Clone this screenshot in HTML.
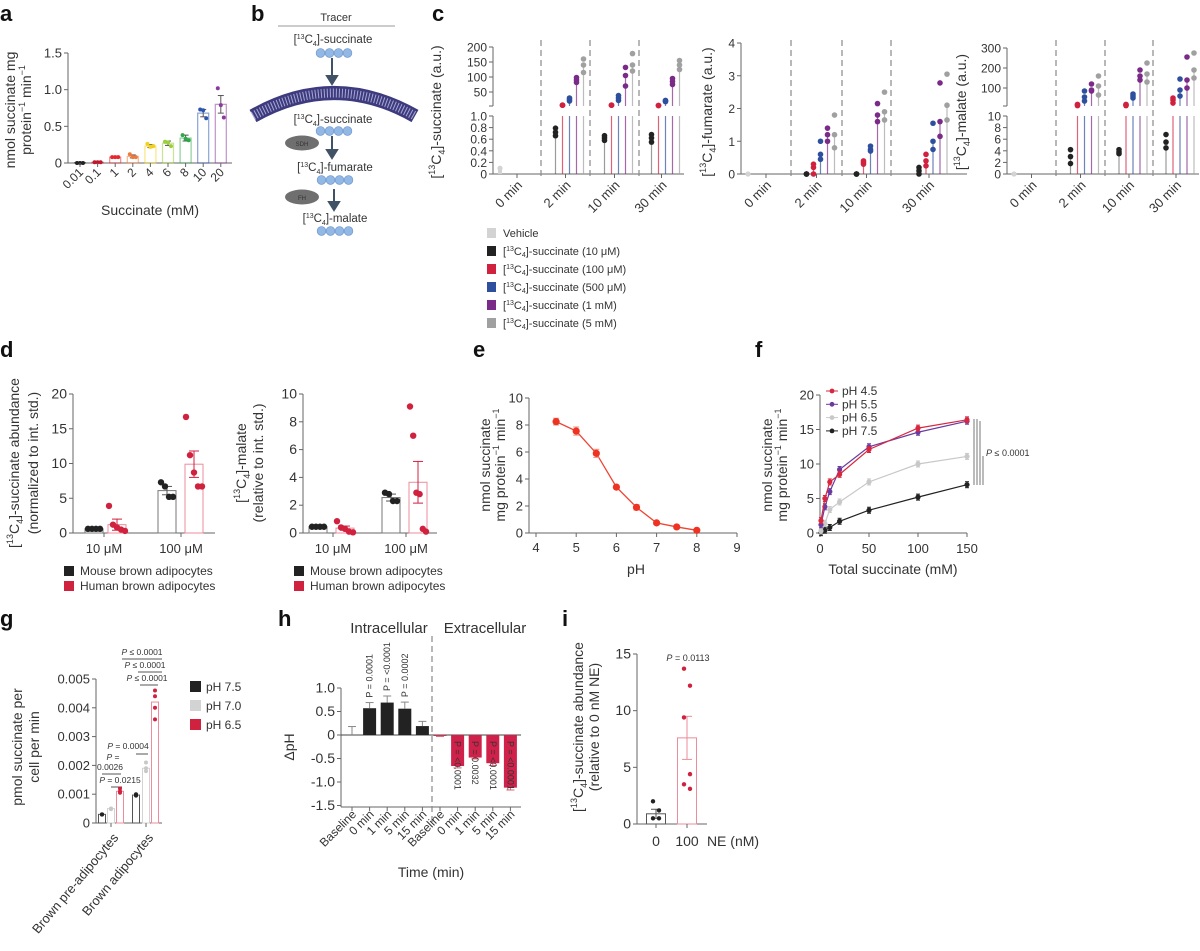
<!DOCTYPE html>
<html><head><meta charset="utf-8">
<style>
html,body{margin:0;padding:0;background:#fff;}
svg{display:block;font-family:"Liberation Sans",sans-serif;fill:#333;}
text{fill:#333;}
.pl{font-weight:bold;font-size:22px;fill:#111;}
</style></head>
<body>
<svg id="fig" width="1200" height="951" viewBox="0 0 1200 951" xmlns="http://www.w3.org/2000/svg">
<!-- panel letters -->
<text class="pl" x="0" y="21">a</text>
<text class="pl" x="251" y="21">b</text>
<text class="pl" x="432" y="21">c</text>
<text class="pl" x="0" y="357">d</text>
<text class="pl" x="473" y="357">e</text>
<text class="pl" x="755" y="357">f</text>
<text class="pl" x="0" y="626">g</text>
<text class="pl" x="278" y="626">h</text>
<text class="pl" x="562" y="626">i</text>

<!-- panel a labels -->
<g font-size="14" text-anchor="middle">
<text transform="translate(15,110) rotate(-90)">nmol succinate mg</text>
<text transform="translate(31,110) rotate(-90)">protein<tspan font-size="9" dy="-6">−1</tspan><tspan dy="6"> min</tspan><tspan font-size="9" dy="-6">−1</tspan></text>
</g>
<text x="150" y="215" font-size="14" text-anchor="middle">Succinate (mM)</text>

<!-- panel b diagram -->
<g font-size="11.5" text-anchor="middle">
<text x="336" y="21" font-size="11">Tracer</text>
<line x1="278" y1="26" x2="395" y2="26" stroke="#999" stroke-width="1"/>
<text x="333" y="43">[<tspan font-size="7" dy="-4">13</tspan><tspan dy="4">C</tspan><tspan font-size="7" dy="3">4</tspan><tspan dy="-3">]-succinate</tspan></text>
<path d="M253,116 Q334,70 415,116" fill="none" stroke="#3d3b7e" stroke-width="14"/>
<path d="M253,116 Q334,70 415,116" fill="none" stroke="#a9a8d4" stroke-width="9" stroke-dasharray="1 2"/>
<text x="333" y="123">[<tspan font-size="7" dy="-4">13</tspan><tspan dy="4">C</tspan><tspan font-size="7" dy="3">4</tspan><tspan dy="-3">]-succinate</tspan></text>
<text x="335" y="171">[<tspan font-size="7" dy="-4">13</tspan><tspan dy="4">C</tspan><tspan font-size="7" dy="3">4</tspan><tspan dy="-3">]-fumarate</tspan></text>
<text x="335" y="222">[<tspan font-size="7" dy="-4">13</tspan><tspan dy="4">C</tspan><tspan font-size="7" dy="3">4</tspan><tspan dy="-3">]-malate</tspan></text>
<ellipse cx="302" cy="143" rx="17" ry="7.5" fill="#6f6f6f"/>
<text x="302" y="146" font-size="6" fill="#444">SDH</text>
<ellipse cx="302" cy="197" rx="17" ry="7.5" fill="#6f6f6f"/>
<text x="302" y="200" font-size="6" fill="#444">FH</text>
<g stroke="#3f5266" stroke-width="2" fill="#3f5266">
<line x1="332" y1="58" x2="332" y2="78"/><polygon points="327,76 337,76 332,84"/>
<line x1="332" y1="136" x2="332" y2="152"/><polygon points="327,150 337,150 332,158"/>
<line x1="334" y1="189" x2="334" y2="204"/><polygon points="329,202 339,202 334,210"/>
</g>
<g id="beads"></g>
</g>

<!-- panel c y titles -->
<g font-size="14" text-anchor="middle">
<text transform="translate(441,112) rotate(-90)">[<tspan font-size="9" dy="-6">13</tspan><tspan dy="6">C</tspan><tspan font-size="9" dy="4">4</tspan><tspan dy="-4">]-succinate (a.u.)</tspan></text>
<text transform="translate(712,112) rotate(-90)">[<tspan font-size="9" dy="-6">13</tspan><tspan dy="6">C</tspan><tspan font-size="9" dy="4">4</tspan><tspan dy="-4">]-fumarate (a.u.)</tspan></text>
<text transform="translate(966,112) rotate(-90)">[<tspan font-size="9" dy="-6">13</tspan><tspan dy="6">C</tspan><tspan font-size="9" dy="4">4</tspan><tspan dy="-4">]-malate (a.u.)</tspan></text>
</g>
<g id="cLegend" font-size="11"></g>

<!-- panel d titles -->
<g font-size="14" text-anchor="middle">
<text transform="translate(19,463) rotate(-90)">[<tspan font-size="9" dy="-6">13</tspan><tspan dy="6">C</tspan><tspan font-size="9" dy="4">4</tspan><tspan dy="-4">]-succinate abundance</tspan></text>
<text transform="translate(38,463) rotate(-90)">(normalized to int. std.)</text>
<text transform="translate(246,463) rotate(-90)">[<tspan font-size="9" dy="-6">13</tspan><tspan dy="6">C</tspan><tspan font-size="9" dy="4">4</tspan><tspan dy="-4">]-malate</tspan></text>
<text transform="translate(263,463) rotate(-90)">(relative to int. std.)</text>
</g>
<g font-size="12">
<rect x="64" y="566" width="10" height="10" fill="#222"/><text x="80" y="575">Mouse brown adipocytes</text>
<rect x="64" y="581" width="10" height="10" fill="#d0213f"/><text x="80" y="590">Human brown adipocytes</text>
<rect x="294" y="566" width="10" height="10" fill="#222"/><text x="310" y="575">Mouse brown adipocytes</text>
<rect x="294" y="581" width="10" height="10" fill="#d0213f"/><text x="310" y="590">Human brown adipocytes</text>
</g>

<!-- e titles -->
<g font-size="14" text-anchor="middle">
<text transform="translate(490,465) rotate(-90)">nmol succinate</text>
<text transform="translate(505,465) rotate(-90)">mg protein<tspan font-size="9" dy="-6">−1</tspan><tspan dy="6"> min</tspan><tspan font-size="9" dy="-6">−1</tspan></text>
<text x="636" y="574">pH</text>
<text transform="translate(772,465) rotate(-90)">nmol succinate</text>
<text transform="translate(787,465) rotate(-90)">mg protein<tspan font-size="9" dy="-6">−1</tspan><tspan dy="6"> min</tspan><tspan font-size="9" dy="-6">−1</tspan></text>
<text x="893" y="574">Total succinate (mM)</text>
</g>
<g stroke="#777" stroke-width="1">
<line x1="974" y1="419" x2="974" y2="485"/><line x1="977" y1="419" x2="977" y2="485"/><line x1="980" y1="421" x2="980" y2="485"/><line x1="983" y1="456" x2="983" y2="485"/>
</g>
<text x="986" y="456" font-size="9"><tspan font-style="italic">P</tspan> ≤ 0.0001</text>
<g id="fLegend" font-size="12"></g>

<!-- g titles -->
<g font-size="14" text-anchor="middle">
<text transform="translate(22,747) rotate(-90)">pmol succinate per</text>
<text transform="translate(39,747) rotate(-90)">cell per min</text>
</g>
<g font-size="12">
<rect x="190" y="681" width="11" height="11" fill="#222"/><text x="206" y="691">pH 7.5</text>
<rect x="190" y="700" width="11" height="11" fill="#d3d3d3"/><text x="206" y="710">pH 7.0</text>
<rect x="190" y="719" width="11" height="11" fill="#d0213f"/><text x="206" y="729">pH 6.5</text>
</g>
<g font-size="8.5" text-anchor="middle">
<text x="142" y="655"><tspan font-style="italic">P</tspan> ≤ 0.0001</text><line x1="122" y1="659" x2="162" y2="659" stroke="#555"/>
<text x="145" y="668"><tspan font-style="italic">P</tspan> ≤ 0.0001</text><line x1="138" y1="672" x2="162" y2="672" stroke="#555"/>
<text x="147" y="681"><tspan font-style="italic">P</tspan> ≤ 0.0001</text><line x1="140" y1="685" x2="158" y2="685" stroke="#555"/>
<text x="128" y="749"><tspan font-style="italic">P</tspan> = 0.0004</text><line x1="136" y1="754" x2="148" y2="754" stroke="#555"/>
<text x="113" y="760"><tspan font-style="italic">P</tspan> =</text>
<text x="110" y="770">0.0026</text><line x1="102" y1="774" x2="121" y2="774" stroke="#555"/>
<text x="120" y="783"><tspan font-style="italic">P</tspan> = 0.0215</text><line x1="111" y1="787" x2="122" y2="787" stroke="#555"/>
</g>
<g font-size="13" text-anchor="end">
<text transform="translate(119,838) rotate(-50)">Brown pre-adipocytes</text>
<text transform="translate(154,838) rotate(-50)">Brown adipocytes</text>
</g>

<!-- h titles -->
<g font-size="15" text-anchor="middle">
<text x="389" y="633">Intracellular</text>
<text x="485" y="633">Extracellular</text>
<text x="431" y="877" font-size="14">Time (min)</text>
<text transform="translate(294,747) rotate(-90)" font-size="14">ΔpH</text>
</g>

<!-- i titles -->
<g font-size="14" text-anchor="middle">
<text transform="translate(583,727) rotate(-90)">[<tspan font-size="9" dy="-6">13</tspan><tspan dy="6">C</tspan><tspan font-size="9" dy="4">4</tspan><tspan dy="-4">]-succinate abundance</tspan></text>
<text transform="translate(599,727) rotate(-90)">(relative to 0 nM NE)</text>
<text x="733" y="846">NE (nM)</text>
<text x="688" y="661" font-size="9"><tspan font-style="italic">P</tspan> = 0.0113</text>
</g>
</svg>

<script>
// ---------- data ----------
const aCats=['0.01','0.1','1','2','4','6','8','10','20'];
const aVals=[0.005,0.01,0.08,0.09,0.23,0.27,0.34,0.68,0.8];
const aErr=[0,0,0.005,0.02,0.02,0.03,0.04,0.05,0.12];
const aDots=[[0,0,0],[0.01,0.01,0.01],[0.08,0.08,0.08],[0.12,0.08,0.08],[0.26,0.22,0.23],[0.29,0.28,0.23],[0.38,0.33,0.31],[0.73,0.72,0.61],[1.02,0.79,0.62]];
const aTicks=[0,0.5,1.0,1.5];
const aTickLabels=['0','0.5','1.0','1.5'];

const cGroups=['0 min','2 min','10 min','30 min'];
const cLegendLabels=['Vehicle','(10 μM)','(100 μM)','(500 μM)','(1 mM)','(5 mM)'];
const sucVehicle=0.1;
const sucMean=[[0.72,0.62,0.62],[6,6,5],[25,30,20],[90,105,85],[140,140,140]];
const sucLo=[[0.66,0.58,0.55],[6,6,5],[20,22,18],[82,70,75],[115,120,125]];
const sucHi=[[0.79,0.66,0.68],[6,6,5],[30,38,22],[98,132,95],[160,178,155]];
const fumVehicle=0;
const fumMean=[[0,0,0.1],[0.2,0.35,0.4],[0.6,0.75,1.0],[1.2,1.8,1.6],[1.2,1.9,2.1]];
const fumLo=[[0,0,0],[0,0.3,0.25],[0.45,0.7,0.75],[1.0,1.6,1.15],[0.8,1.65,1.65]];
const fumHi=[[0,0,0.2],[0.3,0.4,0.6],[1.0,0.85,1.55],[1.4,2.15,2.78],[1.8,2.5,3.05]];
const malVehicle=0;
const malMean=[[3,3.8,5.5],[15,15,40],[55,60,90],[90,160,140],[110,170,190]];
const malLo=[[1.8,3.5,4.5],[12,12,25],[35,50,60],[85,140,100],[65,130,150]];
const malHi=[[4.2,4.2,6.8],[18,18,50],[85,70,145],[120,190,255],[160,225,275]];

const dCats=['10 μM','100 μM'];
const d1Mouse=[0.6,6.1];
const d1Human=[1.2,9.9];
const d1HumanErr=[0.8,1.9];
const d1MouseErr=[0.05,0.6];
const d1MouseDots=[[0.6,0.6,0.6,0.6],[7.3,6.7,5.2,5.2]];
const d1HumanDots=[[3.9,1.2,0.8,0.5,0.3],[16.7,11.2,8.7,6.7,6.7]];
const d2Mouse=[0.45,2.55];
const d2Human=[0.35,3.65];
const d2MouseErr=[0.03,0.25];
const d2HumanErr=[0.15,1.5];
const d2MouseDots=[[0.45,0.45,0.45,0.45],[2.9,2.8,2.3,2.3]];
const d2HumanDots=[[0.85,0.4,0.3,0.1,0.05],[9.1,7.0,2.9,2.8,0.3,0.1]];

const ePH=[4.5,5,5.5,6,6.5,7,7.5,8];
const eVals=[8.25,7.55,5.9,3.4,1.9,0.75,0.45,0.2];
const eErr=[0.25,0.3,0.3,0.1,0.2,0.05,0.05,0.05];

const fX=[1,5,10,20,50,100,150];
const fLabels=['pH 4.5','pH 5.5','pH 6.5','pH 7.5'];
const fPH45=[1.8,5.0,7.4,8.5,12.1,15.2,16.4];
const fPH55=[1.2,3.8,6.0,9.2,12.5,14.6,16.2];
const fPH65=[0.3,1.4,3.4,4.5,7.4,10.0,11.1];
const fPH75=[0.05,0.4,0.8,1.7,3.3,5.2,7.0];

const gCats=['Brown pre-adipocytes','Brown adipocytes'];
const g75=[0.0003,0.00097];
const g70=[0.0005,0.0019];
const g65=[0.0011,0.0042];
const g75Dots=[[0.0003,0.0003,0.00029],[0.001,0.00097,0.00095]];
const g70Dots=[[0.0005,0.0005,0.00048],[0.0021,0.0019,0.0018]];
const g65Dots=[[0.0012,0.0011,0.00105],[0.0046,0.0044,0.004,0.0036]];

const hCats=['Baseline','0 min','1 min','5 min','15 min','Baseline','0 min','1 min','5 min','15 min'];
const hVals=[0,0.57,0.69,0.56,0.19,-0.02,-0.66,-0.48,-0.6,-1.12];
const hErr=[0.18,0.12,0.14,0.14,0.1,0.01,0.04,0.03,0.05,0.05];
const hP=['','P = 0.0001','P = <0.0001','P = 0.0002','','','P = <0.0001','P = 0.0032','P = <0.0001','P = <0.0001'];

const iCats=['0','100'];
const iVals=[0.9,7.6];
const iErr=[0.4,1.9];
const iDots=[[2.0,1.2,0.5,0.5],[13.7,12.2,9.4,4.4,3.5,3.1]];

// ---------- helpers ----------
const NS='http://www.w3.org/2000/svg';
const svg=document.getElementById('fig');
function mk(tag,a,p){const e=document.createElementNS(NS,tag);for(const k in a)e.setAttribute(k,a[k]);(p||svg).appendChild(e);return e;}
function txt(x,y,s,a,p){const e=mk('text',Object.assign({x:x,y:y},a||{}),p);e.textContent=s;return e;}
function lin(d0,d1,r0,r1){return v=>r0+(v-d0)*(r1-r0)/(d1-d0);}
function grp(name){const g=mk('g',{});return g;}
const AX='#666';
function yAxis(g,x,yTop,yBot,ticks,labels,sc,fs){
  mk('line',{x1:x,x2:x,y1:yTop,y2:yBot,stroke:AX,'stroke-width':1},g);
  ticks.forEach((t,i)=>{const y=sc(t);mk('line',{x1:x-4,x2:x,y1:y,y2:y,stroke:AX},g);txt(x-6,y+4.5,labels[i],{'text-anchor':'end','font-size':fs},g);});
}
function dot(g,x,y,r,c){return mk('circle',{cx:x,cy:y,r:r,fill:c},g);}
function errbar(g,x,y1,y2,c,w){mk('line',{x1:x,x2:x,y1:y1,y2:y2,stroke:c,'stroke-width':1},g);mk('line',{x1:x-w,x2:x+w,y1:y1,y2:y1,stroke:c},g);mk('line',{x1:x-w,x2:x+w,y1:y2,y2:y2,stroke:c},g);}
const RED='#d0213f', PINK='#ec8c9c', BLK='#222', GRY='#a0a0a0', LGRY='#d3d3d3', BLU='#2d4f9e', PUR='#7a2a87';

// ---------- beads in b ----------
(function(){const g=document.getElementById('beads');[[334,53],[334,131],[335,180],[335,231]].forEach(([cx,cy])=>{for(let k=0;k<4;k++){mk('circle',{cx:cx-13.5+k*9,cy:cy,r:4.4,fill:'#92b8e6',stroke:'#6a92c8','stroke-width':0.6},g);}});})();

// ---------- panel a ----------
(function(){
  const g=grp('panel-a-chart');
  const y=lin(0,1.5,163,53);
  const cols=['#222','#c0172c','#e8262c','#f07a3a','#f2d21b','#9ccf3d','#2fa84a','#2d55b0','#8a3a9e'];
  const x=i=>80+i*17.6;
  yAxis(g,68,53,163,aTicks,aTickLabels,y,13);
  mk('line',{x1:68,x2:232,y1:163,y2:163,stroke:AX},g);
  aVals.forEach((v,i)=>{
    const b=mk('rect',{x:x(i)-5.5,y:y(v),width:11,height:163-y(v),fill:'none',stroke:cols[i],'stroke-opacity':0.55,'stroke-width':1.2},g);
    
    
    if(aErr[i]>0)errbar(g,x(i),y(v+aErr[i]),y(v-aErr[i]),'#555',3);
    aDots[i].forEach((d,k)=>{dot(g,x(i)-3+k*3,y(d),2,cols[i]);});
    mk('line',{x1:x(i),x2:x(i),y1:163,y2:167,stroke:AX},g);
    txt(x(i)+4,173,aCats[i],{'text-anchor':'end','font-size':12,transform:'rotate(-45 '+(x(i)+4)+' 173)'},g);
  });
})();

// ---------- panel c ----------
const cCols=[BLK,RED,BLU,PUR,GRY];
function drawC(name,axisX,xEnd,dashes,sc,brk,vehicle,means,lo,hi,ticksLo,labLo,ticksHi,labHi){
  const g=grp(name);
  const base=174;
  if(brk){
    yAxis(g,axisX,116,base,ticksLo,labLo,sc,12);
    yAxis(g,axisX,brk.top,106,ticksHi,labHi,sc,12);
    mk('line',{x1:axisX-4,x2:axisX,y1:106,y2:106,stroke:AX},g);
  } else yAxis(g,axisX,43,base,ticksLo,labLo,sc,12);
  mk('line',{x1:axisX,x2:xEnd,y1:base,y2:base,stroke:AX},g);
  dashes.forEach(d=>mk('line',{x1:d,x2:d,y1:40,y2:178,stroke:'#888','stroke-dasharray':'6 4','stroke-width':1.2},g));
  const edges=[axisX].concat(dashes).concat([xEnd]);
  cGroups.forEach((lab,gi)=>{
    const cx=(edges[gi]+edges[gi+1])/2;
    mk('line',{x1:cx,x2:cx,y1:base,y2:base+4,stroke:AX},g);
    txt(cx+6,186,lab,{'text-anchor':'end','font-size':13,transform:'rotate(-45 '+(cx+6)+' 186)'},g);
    if(gi===0){
      const vx=axisX+7;const m=mk('rect',{x:vx-2,y:sc(vehicle),width:4,height:base-sc(vehicle),fill:LGRY},g);
      
      
      dot(g,vx,sc(vehicle),2.6,LGRY);
      return;
    }
    const gx=gi-1;
    cCols.forEach((c,si)=>{
      const x=cx+4+(si-2)*7;const v=means[si][gx];const yv=sc(v);
      const ln=mk('g',{},g);
      
      
      const op=c===BLK?0.45:0.7;
      if(brk && v>brk.lowMax){
        mk('line',{x1:x,x2:x,y1:base,y2:116,stroke:c,'stroke-width':1.2,'stroke-opacity':op},ln);
        mk('line',{x1:x,x2:x,y1:106,y2:yv,stroke:c,'stroke-width':1.2,'stroke-opacity':op},ln);
      } else mk('line',{x1:x,x2:x,y1:base,y2:yv,stroke:c,'stroke-width':1.2,'stroke-opacity':op},ln);
      [lo[si][gx],v,hi[si][gx]].forEach(d=>dot(ln,x,sc(d),2.8,c));
    });
  });
}
function brokenScale(lowMax,lowTop,upper0,upperTop,upperMax){const l=lin(0,lowMax,174,lowTop);const u=lin(0,upperMax,upper0,upperTop);return v=>v<=lowMax?l(v):u(v);}
drawC('c-succinate-chart',493,684,[541,590,639],brokenScale(1,116,107,47,200),{lowMax:1,top:47},sucVehicle,sucMean,sucLo,sucHi,[0,0.2,0.4,0.6,0.8,1.0],['0','0.2','0.4','0.6','0.8','1.0'],[50,100,150,200],['50','100','150','200']);
drawC('c-fumarate-chart',741,967,[791,842,891],lin(0,4,174,43),null,fumVehicle,fumMean,fumLo,fumHi,[0,1,2,3,4],['0','1','2','3','4']);
drawC('c-malate-chart',1007,1199,[1056,1105,1153],brokenScale(10,116,108,48,300),{lowMax:10,top:48},malVehicle,malMean,malLo,malHi,[0,2,4,6,8,10],['0','2','4','6','8','10'],[100,200,300],['100','200','300']);
(function(){const g=document.getElementById('cLegend');const cols=[LGRY,BLK,RED,BLU,PUR,GRY];
  cLegendLabels.forEach((l,i)=>{const y=233+i*18;mk('rect',{x:487,y:y-5,width:9,height:10,fill:cols[i]},g);
    const t=mk('text',{x:503,y:y+4},g);
    if(i===0){t.textContent=l;}else{t.innerHTML='[<tspan font-size="7" dy="-4">13</tspan><tspan dy="4">C</tspan><tspan font-size="7" dy="2">4</tspan><tspan dy="-2">]-succinate '+l+'</tspan>';}
    
    
  });})();

// ---------- panel d ----------
function drawD(name,axisX,xEnd,xs,ymax,ticks,mouse,human,mErr,hErrA,mDots,hDots,tickX){
  const g=grp(name);const y=lin(0,ymax,533,394);
  yAxis(g,axisX,394,533,ticks,ticks.map(String),y,14);
  mk('line',{x1:axisX,x2:xEnd,y1:533,y2:533,stroke:AX},g);
  dCats.forEach((c,i)=>{
    const mx=xs[i][0],hx=xs[i][1];
    const b1=mk('rect',{x:mx-9,y:y(mouse[i]),width:18,height:533-y(mouse[i]),fill:'none',stroke:'#777'},g);
    
    
    const b2=mk('rect',{x:hx-9,y:y(human[i]),width:18,height:533-y(human[i]),fill:'none',stroke:PINK},g);
    
    
    errbar(g,mx,y(mouse[i]+mErr[i]),y(mouse[i]-mErr[i]),'#555',5);
    errbar(g,hx,y(human[i]+hErrA[i]),y(Math.max(0,human[i]-hErrA[i])),RED,5);
    mDots[i].forEach((d,k)=>dot(g,mx-6+k*(12/(mDots[i].length-1)),y(d),3.2,BLK));
    hDots[i].forEach((d,k)=>dot(g,hx-8+k*(16/(hDots[i].length-1)),y(d),3.2,RED));
    const tx=tickX[i];mk('line',{x1:tx,x2:tx,y1:533,y2:537,stroke:AX},g);
    txt(tx,553,c,{'text-anchor':'middle','font-size':13},g);
  });
}
drawD('d-succinate-chart',73,215,[[94,117],[167,194]],20,[0,5,10,15,20],d1Mouse,d1Human,d1MouseErr,d1HumanErr,d1MouseDots,d1HumanDots,[104,181]);
drawD('d-malate-chart',303,437,[[318,345],[391,418]],10,[0,2,4,6,8,10],d2Mouse,d2Human,d2MouseErr,d2HumanErr,d2MouseDots,d2HumanDots,[333,406]);

// ---------- panel e ----------
(function(){
  const g=grp('panel-e-chart');const x=lin(4,9,536,737),y=lin(0,10,533,398);
  yAxis(g,529,398,533,[0,2,4,6,8,10],['0','2','4','6','8','10'],y,13);
  mk('line',{x1:529,x2:737,y1:533,y2:533,stroke:AX},g);
  [4,5,6,7,8,9].forEach(t=>{mk('line',{x1:x(t),x2:x(t),y1:533,y2:537,stroke:AX},g);txt(x(t),552,String(t),{'text-anchor':'middle','font-size':13},g);});
  const pl=mk('polyline',{points:ePH.map((p,i)=>x(p)+','+y(eVals[i])).join(' '),fill:'none',stroke:'#ee4433','stroke-width':1.3},g);
  
  
  ePH.forEach((p,i)=>{errbar(g,x(p),y(eVals[i]+eErr[i]),y(eVals[i]-eErr[i]),'#f08a7a',3);const d=dot(g,x(p),y(eVals[i]),3.6,'#ee3322');
    
    });
})();

// ---------- panel f ----------
(function(){
  const g=grp('panel-f-chart');const x=lin(0,150,820,967),y=lin(0,20,533,395);
  yAxis(g,820,395,533,[0,5,10,15,20],['0','5','10','15','20'],y,13);
  mk('line',{x1:820,x2:967,y1:533,y2:533,stroke:AX},g);
  [0,50,100,150].forEach(t=>{mk('line',{x1:x(t),x2:x(t),y1:533,y2:537,stroke:AX},g);txt(x(t),553,String(t),{'text-anchor':'middle','font-size':13},g);});
  const series=[fPH45,fPH55,fPH65,fPH75];const cols=['#d8273f','#6a3aa0','#c8c8c8','#222'];
  [3,2,1,0].forEach(si=>{
    const s=series[si];
    const pl=mk('polyline',{points:fX.map((v,i)=>x(v)+','+y(s[i])).join(' '),fill:'none',stroke:cols[si],'stroke-width':1.2},g);
    
    
    fX.forEach((v,i)=>{errbar(g,x(v),y(s[i])-3,y(s[i])+3,cols[si],2);dot(g,x(v),y(s[i]),2.6,cols[si]);});
  });
  const lg=document.getElementById('fLegend');
  fLabels.forEach((l,i)=>{const yy=391+i*13.3;mk('line',{x1:826,x2:838,y1:yy,y2:yy,stroke:cols[i]},lg);dot(lg,832,yy,2.4,cols[i]);
    const t=txt(842,yy+4,l,{},lg);
    
    });
})();

// ---------- panel g ----------
(function(){
  const g=grp('panel-g-chart');const y=lin(0,0.005,823,679);
  yAxis(g,96,679,823,[0,0.001,0.002,0.003,0.004,0.005],['0','0.001','0.002','0.003','0.004','0.005'],y,13);
  mk('line',{x1:96,x2:162,y1:823,y2:823,stroke:AX},g);
  const xs=[[102,111,120],[136,146,155]];
  const ser=[[g75,g75Dots,'#555',BLK],[g70,g70Dots,LGRY,'#c8c8c8'],[g65,g65Dots,PINK,RED]];
  gCats.forEach((c,ci)=>{
    ser.forEach((s,si)=>{const x=xs[ci][si];const v=s[0][ci];
      const b=mk('rect',{x:x-3.5,y:y(v),width:7,height:823-y(v),fill:'none',stroke:s[2]},g);
      
      
      s[1][ci].forEach(d=>dot(g,x,y(d),2,s[3]));
    });
    const tx=xs[ci][1];mk('line',{x1:tx,x2:tx,y1:823,y2:827,stroke:AX},g);
  });
})();

// ---------- panel h ----------
(function(){
  const g=grp('panel-h-chart');const y=lin(0,1,735,688);const x=i=>352+i*17.6;
  yAxis(g,341,688,807,[1,0.5,0,-0.5,-1,-1.5],['1.0','0.5','0','-0.5','-1.0','-1.5'],y,14);
  mk('line',{x1:341,x2:521,y1:807,y2:807,stroke:AX},g);
  mk('line',{x1:341,x2:521,y1:735,y2:735,stroke:'#444'},g);
  mk('line',{x1:432,x2:432,y1:636,y2:822,stroke:'#888','stroke-dasharray':'6 4','stroke-width':1.2},g);
  hVals.forEach((v,i)=>{
    const xx=x(i);const c=i<5?BLK:'#d0214a';
    const b=mk('rect',{x:xx-6.5,y:Math.min(y(v),735),width:13,height:Math.abs(y(v)-735),fill:c},g);
    
    
    const e=v>=0?v+hErr[i]:v-hErr[i];
    mk('line',{x1:xx,x2:xx,y1:y(v),y2:y(e),stroke:i<5?'#888':'#e06070'},g);
    mk('line',{x1:xx-4,x2:xx+4,y1:y(e),y2:y(e),stroke:i<5?'#888':'#e06070'},g);
    mk('line',{x1:xx,x2:xx,y1:807,y2:811,stroke:AX},g);
    txt(xx+5,815,hCats[i],{'text-anchor':'end','font-size':12,transform:'rotate(-45 '+(xx+5)+' 815)'},g);
    if(hP[i]){
      if(v>0){const ty=y(e)-5;txt(xx+3,ty,hP[i],{'font-size':9,transform:'rotate(-90 '+(xx+3)+' '+ty+')'},g);}
      else{const ty=741;txt(xx-3,ty,hP[i],{'font-size':9,transform:'rotate(90 '+(xx-3)+' '+ty+')'},g);}
    }
  });
})();

// ---------- panel i ----------
(function(){
  const g=grp('panel-i-chart');const y=lin(0,15,824,654);const xs=[656,687];
  yAxis(g,637,654,824,[0,5,10,15],['0','5','10','15'],y,14);
  mk('line',{x1:637,x2:707,y1:824,y2:824,stroke:AX},g);
  iCats.forEach((c,i)=>{const x=xs[i];const col=i?PINK:'#555';const dc=i?RED:BLK;
    const b=mk('rect',{x:x-9.5,y:y(iVals[i]),width:19,height:824-y(iVals[i]),fill:'none',stroke:col},g);
    
    
    errbar(g,x,y(iVals[i]+iErr[i]),y(iVals[i]-iErr[i]),col,5);
    iDots[i].forEach((d,k)=>dot(g,x+(k%2?3:-3),y(d),2.2,dc));
    mk('line',{x1:x,x2:x,y1:824,y2:828,stroke:AX},g);
    txt(x,846,c,{'text-anchor':'middle','font-size':14},g);
  });
})();
</script>
</body></html>
